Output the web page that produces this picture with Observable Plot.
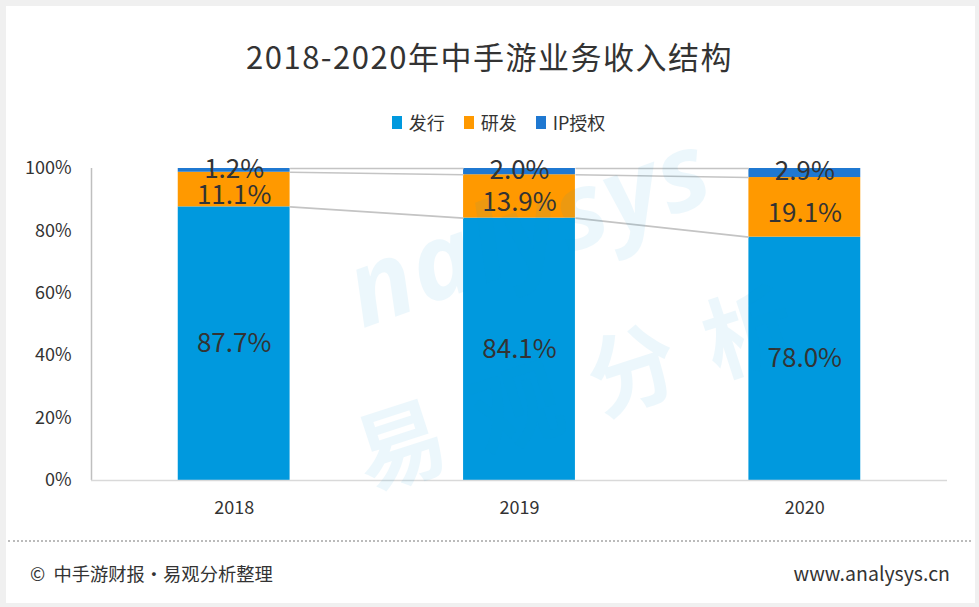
<!DOCTYPE html>
<html><head><meta charset="utf-8">
<script src="https://cdn.jsdelivr.net/npm/d3@7"></script>
<script src="https://cdn.jsdelivr.net/npm/@observablehq/plot@0.6"></script>
<style>
html,body{margin:0;padding:0;background:#f0f0f0;}
#page{position:relative;width:979px;height:607px;overflow:hidden;font-family:"Noto Sans CJK SC","Noto Sans",sans-serif;color:#333;}
#card{position:absolute;left:6px;top:6px;width:969px;height:597px;background:#fff;}
#title{position:absolute;left:0;width:979px;top:34px;text-align:center;font-size:31px;letter-spacing:1.5px;line-height:44px;color:#333;}
#legend{position:absolute;left:9px;width:979px;top:109px;display:flex;justify-content:center;font-size:18px;line-height:26px;color:#333;}
#legend span.item{display:inline-flex;align-items:center;margin:0 9.5px;}
#legend i{display:inline-block;width:10px;height:13px;margin-right:7px;}
#chart{position:absolute;left:0;top:140px;}
#rule{position:absolute;left:8px;width:963px;top:540px;border-top:2px dotted #bbb;}
#src{position:absolute;left:30px;top:559px;font-size:18.3px;line-height:28px;color:#333;}
#url{position:absolute;right:29px;top:559px;font-size:19.5px;line-height:28px;color:#333;}
#wm{position:absolute;left:331px;top:241px;font-size:105px;font-weight:700;font-style:italic;line-height:1;font-family:"Open Sans",sans-serif;color:#0099dd;opacity:0.07;transform:rotate(-20deg);transform-origin:0 0;pointer-events:none;letter-spacing:2px;white-space:nowrap;}
#wm2{position:absolute;left:342px;top:411px;font-size:90px;font-weight:700;line-height:1;color:#0099dd;opacity:0.07;transform:rotate(-18deg);transform-origin:0 0;pointer-events:none;letter-spacing:32px;white-space:nowrap;}
</style></head>
<body>
<div id="page">
  <div id="card"></div>
  <div id="title">2018-2020年中手游业务收入结构</div>
  <div id="legend"></div>
  <div id="chart"></div>
  <div id="wm">nalysys</div>
  <div id="wm2">易观分析</div>
  <div id="rule"></div>
  <div id="src">©&nbsp; 中手游财报·易观分析整理</div>
  <div id="url">www.analysys.cn</div>
</div>
<script>
const years = ["2018", "2019", "2020"];
const seriesNames = ["发行", "研发", "IP授权"];
const faxing = [87.7, 84.1, 78.0];
const yanfa = [11.1, 13.9, 19.1];
const ipShouquan = [1.2, 2.0, 2.9];
const colors = ["#0099de", "#ff9900", "#1f78d1"];
const yTicks = [0, 20, 40, 60, 80, 100];

const seriesValues = [faxing, yanfa, ipShouquan];
const halfWidth = 0.196; // bar half width, in band units

// stacked rows
const rows = [];
years.forEach((yr, i) => {
  let base = 0;
  seriesValues.forEach((vals, s) => {
    rows.push({i, year: yr, series: seriesNames[s], value: vals[i], y1: base, y2: base + vals[i], s});
    base += vals[i];
  });
});

// series connector lines between the tops of each segment
const links = [];
[0, 1, 2].forEach(s => {
  for (let i = 0; i < years.length - 1; i++) {
    const a = rows.find(r => r.i === i && r.s === s);
    const b = rows.find(r => r.i === i + 1 && r.s === s);
    links.push({x1: i + 0.5 + halfWidth, x2: i + 1.5 - halfWidth, y1: a.y2, y2: b.y2});
  }
});

// legend
document.getElementById("legend").innerHTML = seriesNames.map((n, k) =>
  `<span class="item"><i style="background:${colors[k]}"></i>${n}</span>`).join("");

const label = d => d.value.toFixed(1) + "%";
const chart = Plot.plot({
  width: 979,
  height: 390,
  marginLeft: 91,
  marginRight: 32,
  marginTop: 28,
  marginBottom: 50,
  style: {fontFamily: "'Noto Sans CJK SC','Noto Sans',sans-serif", fontSize: "17px", color: "#333", background: "transparent"},
  x: {domain: [0, years.length], axis: null},
  y: {domain: [0, 100], axis: null},
  color: {domain: seriesNames, range: colors},
  marks: [
    Plot.rectY(rows, {x1: d => d.i + 0.5 - halfWidth, x2: d => d.i + 0.5 + halfWidth, y1: "y1", y2: "y2", fill: "series"}),
    Plot.link(links, {x1: "x1", x2: "x2", y1: "y1", y2: "y2", stroke: "#c4c4c4", strokeWidth: 1.6}),
    Plot.ruleX([0], {y1: 0, y2: 100, stroke: "#bfbfbf", strokeWidth: 1.5}),
    Plot.ruleY([0], {stroke: "#d9d9d9", strokeWidth: 1.5}),
    Plot.text(yTicks, {x: 0, y: d => d, text: d => d + "%", textAnchor: "end", dx: -20, fontSize: 18, fill: "#333"}),
    Plot.text(years, {x: (d, i) => i + 0.5, y: 0, text: d => d, dy: 28, fontSize: 18, fill: "#333"}),
    Plot.text(rows.filter(r => r.s === 0), {x: d => d.i + 0.5, y: d => (d.y1 + d.y2) / 2, text: label, fontSize: 26, fill: "#333"}),
    Plot.text(rows.filter(r => r.s === 1), {x: d => d.i + 0.5, y: d => (d.y1 + d.y2) / 2, text: label, fontSize: 26, fill: "#333", dy: 6}),
    Plot.text(rows.filter(r => r.s === 2), {x: d => d.i + 0.5, y: d => (d.y1 + d.y2) / 2, text: label, fontSize: 26, fill: "#333", dy: -1})
  ]
});
document.getElementById("chart").appendChild(chart);
</script>
</body></html>
